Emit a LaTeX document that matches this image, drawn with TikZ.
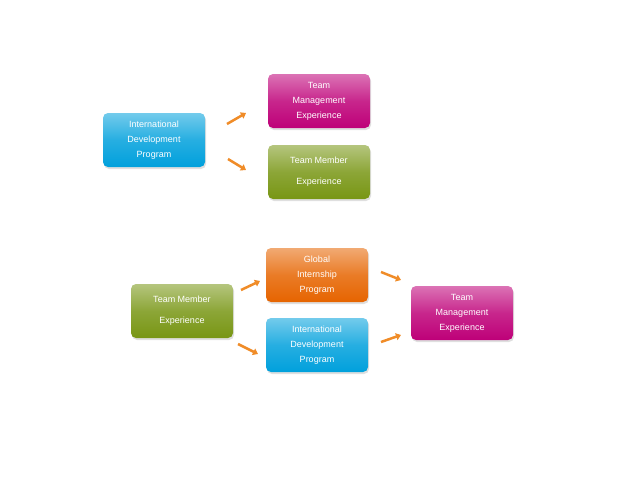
\documentclass[tikz,border=0pt]{standalone}
\usepackage{fontspec}
\setmainfont{Liberation Sans}
\usetikzlibrary{arrows.meta,shadows}
\definecolor{cyanb}{RGB}{0,160,220}
\definecolor{magb}{RGB}{190,0,120}
\definecolor{grnb}{RGB}{120,150,20}
\definecolor{orgb}{RGB}{230,100,0}
\definecolor{arr}{RGB}{240,140,40}
\tikzset{
 box/.style={rounded corners=5pt, minimum width=102pt, minimum height=54pt, align=center,
   text=white, font=\fontsize{9}{15}\selectfont, drop shadow={opacity=0.25,shadow xshift=1pt,shadow yshift=-2pt}},
 bc/.style={box, top color=#1!55!white, bottom color=#1, middle color=#1!85!white},
 arrw/.style={draw=arr, line width=2.5pt, -{Triangle[length=5pt,width=7pt]}}
}
\begin{document}
\begin{tikzpicture}[x=1pt,y=-1pt]
\useasboundingbox (0,0) rectangle (638,479);
\fill[white] (0,0) rectangle (638,479);
\node[bc=cyanb] (idp1) at (154,140) {International\\Development\\Program};
\node[bc=magb] (tm1) at (319,101) {Team\\Management\\Experience};
\node[bc=grnb] (mem1) at (319,172) {Team Member\\[6pt]Experience};
\node[bc=orgb] (gip) at (317,275) {Global\\Internship\\Program};
\node[bc=grnb] (mem2) at (182,311) {Team Member\\[6pt]Experience};
\node[bc=cyanb] (idp2) at (317,345) {International\\Development\\Program};
\node[bc=magb] (tm2) at (462,313) {Team\\Management\\Experience};
\coordinate (a1s) at (227,124); \coordinate (a1e) at (246,113);
\coordinate (a2s) at (228,159); \coordinate (a2e) at (246,170);
\coordinate (a3s) at (241,290); \coordinate (a3e) at (260,281);
\coordinate (a4s) at (238,344); \coordinate (a4e) at (258,354);
\coordinate (a5s) at (381,272); \coordinate (a5e) at (401,280);
\coordinate (a6s) at (381,342); \coordinate (a6e) at (401,335);
\foreach \i in {1,...,6} \draw[arrw] (a\i s) -- (a\i e);
\end{tikzpicture}
\end{document}
